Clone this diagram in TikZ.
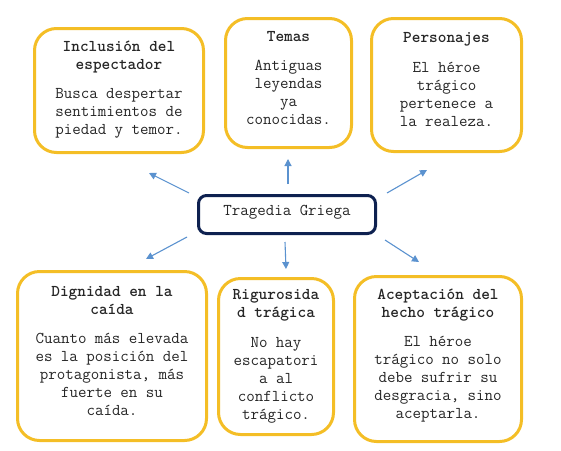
\documentclass[tikz,border=0pt]{standalone}
\usepackage{fontspec}
\usetikzlibrary{arrows.meta}
\definecolor{gold}{HTML}{F4BE26}
\definecolor{navy}{HTML}{0E2150}
\definecolor{arrblue}{HTML}{5B92CF}
\tikzset{
  ybox/.style={draw=gold, line width=3pt, rounded corners=22pt, inner sep=0pt, fill=white},
  cbox/.style={draw=navy, line width=3pt, rounded corners=8pt, inner sep=0pt, fill=white},
  txt/.style={inner sep=0pt, anchor=base, text=black!85, font=\ttfamily\fontsize{16.5}{18}\selectfont},
  arr/.style={draw=arrblue, line width=1.1pt, -{Triangle[length=7pt,width=7pt]}}
}
\newcommand{\mytxt}[3]{\parbox[t]{#1}{\centering\baselineskip=18pt #2}}
\begin{document}
\begin{tikzpicture}[x=1pt,y=-1pt]
\useasboundingbox (0,0) rectangle (561,450);
% boxes
\node[ybox, minimum width=169pt, minimum height=124pt] (b1) at (119,90.5) {};
\node[ybox, minimum width=126pt, minimum height=129pt] (b2) at (288.5,83) {};
\node[ybox, minimum width=150pt, minimum height=133pt] (b3) at (446.5,85) {};
\node[cbox, minimum width=177pt, minimum height=38pt] (c) at (287,214.5) {};
\node[ybox, minimum width=189pt, minimum height=169pt] (b4) at (112,356) {};
\node[ybox, minimum width=115pt, minimum height=156pt] (b5) at (276,356.5) {};
\node[ybox, minimum width=167pt, minimum height=165pt] (b6) at (438,359) {};
% texts
\node[txt] (t1) at (119,51) {\mytxt{165pt}{\textbf{Inclusión del\\espectador}\\[11pt]Busca despertar\\sentimientos de\\piedad y temor.}{}};
\node[txt] (t2) at (288.5,41) {\mytxt{120pt}{\textbf{Temas}\\[11pt]Antiguas\\leyendas\\ya\\conocidas.}{}};
\node[txt] (t3) at (446.5,42) {\mytxt{145pt}{\textbf{Personajes}\\[12pt]El héroe\\trágico\\pertenece a\\la realeza.}{}};
\node[txt] (tc) at (287,215) {Tragedia Griega};
\node[txt] (t4) at (112,296) {\mytxt{185pt}{\textbf{Dignidad en la\\caída}\\[11pt]Cuanto más elevada\\es la posición del\\protagonista, más\\fuerte en su\\caída.}{}};
\node[txt] (t5) at (276,299) {\mytxt{112pt}{\textbf{Rigurosida\\d trágica}\\[12pt]No hay\\escapatori\\a al\\conflicto\\trágico.}{}};
\node[txt] (t6) at (438,299) {\mytxt{165pt}{\textbf{Aceptación del\\hecho trágico}\\[11pt]El héroe\\trágico no solo\\debe sufrir su\\desgracia, sino\\aceptarla.}{}};
% arrow endpoints
\coordinate (s1) at (189,193); \coordinate (e1) at (149,173);
\coordinate (s2) at (288,184); \coordinate (e2) at (288,159);
\coordinate (s3) at (387,193); \coordinate (e3) at (427,170);
\coordinate (s4) at (187,237); \coordinate (e4) at (146,259);
\coordinate (s5) at (285,242); \coordinate (e5) at (286,269);
\coordinate (s6) at (385,240); \coordinate (e6) at (419,262);
\draw[arr] (s1) -- (e1);
\draw[arr] (s2) -- (e2);
\draw[arr] (s3) -- (e3);
\draw[arr] (s4) -- (e4);
\draw[arr] (s5) -- (e5);
\draw[arr] (s6) -- (e6);
\end{tikzpicture}
\end{document}
